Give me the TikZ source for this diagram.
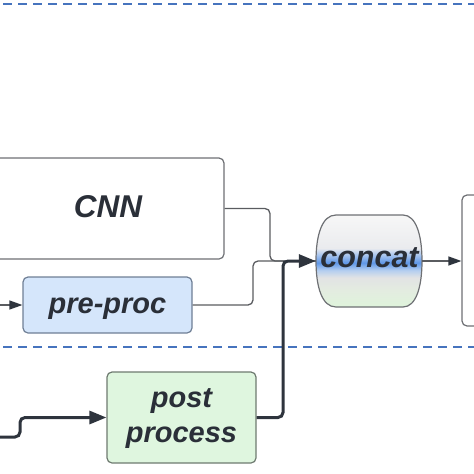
\documentclass[tikz,border=0pt]{standalone}
\usepackage{fontspec}
\setmainfont{Liberation Sans}
\usetikzlibrary{arrows.meta}
\definecolor{txt}{HTML}{2A2F38}
\definecolor{thinc}{HTML}{5A5C60}
\definecolor{thickc}{HTML}{2E343D}
\definecolor{boxgray}{HTML}{6E7074}
\definecolor{prefill}{HTML}{D5E6FB}
\definecolor{predraw}{HTML}{6F7F95}
\definecolor{postfill}{HTML}{DFF6DF}
\definecolor{postdraw}{HTML}{6E7A70}
\definecolor{dashc}{HTML}{4774BE}
\definecolor{cgreen}{HTML}{DFF4DB}
\definecolor{cgreen2}{HTML}{E3ECE0}
\definecolor{cgray}{HTML}{E2E3E4}
\definecolor{cblueA}{HTML}{B4CEF0}
\definecolor{cblue}{HTML}{5F97E8}
\definecolor{cblueB}{HTML}{A3C2EE}
\definecolor{cgray2}{HTML}{EAEBEE}
\definecolor{ctop}{HTML}{F7F7F7}
\pgfdeclareverticalshading{concatshade}{100bp}{color(0bp)=(cgreen); color(25bp)=(cgreen); color(34bp)=(cgreen2); color(41bp)=(cgray); color(45bp)=(cblueA); color(49bp)=(cblue); color(53bp)=(cblueB); color(57bp)=(cgray2); color(75bp)=(ctop); color(100bp)=(ctop)}
\tikzset{
  box/.style={draw=boxgray, line width=1.2pt, rounded corners=5pt, fill=white, inner sep=0pt},
  prebox/.style={box, draw=predraw, fill=prefill},
  postbox/.style={box, draw=postdraw, fill=postfill},
  lbl/.style={text=txt, font=\bfseries\itshape\fontsize{29}{34}\selectfont, anchor=base, inner sep=0pt},
  thinl/.style={draw=thinc, line width=1.3pt, rounded corners=5pt},
  thickl/.style={draw=thickc, line width=3pt, rounded corners=5pt},
  thintip/.style={-{Triangle[length=13pt,width=9pt,color=thickc]}},
  thicktip/.style={-{Triangle[length=17pt,width=13pt,color=thickc]}},
  sepline/.style={draw=dashc, line width=2.3pt, dash pattern=on 9pt off 6pt, dash phase=-3pt}
}
\begin{document}
\begin{tikzpicture}[x=1pt,y=-1pt]
\useasboundingbox (0,0) rectangle (474,474);
\clip (0,0) rectangle (474,474);
% separators
\coordinate (s1a) at (0,4); \coordinate (s1b) at (474,4);
\coordinate (s2a) at (0,347); \coordinate (s2b) at (474,347);
\draw[sepline] (s1a) -- (s1b);
% boxes
\node[box, minimum width=240pt, minimum height=101pt] (cnn) at (104,208.5) {};
\node[prebox, minimum width=169pt, minimum height=56pt] (pre) at (107.5,305) {};
\node[postbox, minimum width=149pt, minimum height=91pt] (post) at (181.5,417.5) {};
\node[box, minimum width=58pt, minimum height=131pt] (out) at (491,260.5) {};
\node[inner sep=0pt, minimum width=106pt, minimum height=92pt] (concat) at (369,261) {};
\draw[shift={(concat.center)}, shading=concatshade, draw=boxgray, line width=1.2pt]
  (-33,-46) -- (34,-46) .. controls (47,-46) and (53,-26) .. (53,0)
  .. controls (53,26) and (47,46) .. (34,46) -- (-33,46)
  .. controls (-47,46) and (-53,26) .. (-53,0)
  .. controls (-53,-26) and (-47,-46) .. (-33,-46) -- cycle;
% second separator (passes under the thick connector)
\draw[sepline] (s2a) -- (s2b);
% labels
\node[lbl, font=\bfseries\itshape\fontsize{31.5}{36}\selectfont] (cnntext) at (108,217) {CNN};
\node[lbl] (pretext) at (107.5,313) {pre-proc};
\node[lbl] (posttext) at (181.5,407) {post};
\node[lbl] (proctext) at (181.5,442) {process};
\node[lbl, font=\bfseries\itshape\fontsize{30.5}{36}\selectfont] (concattext) at (369.5,267) {concat};
% connectors
\coordinate (cnnbend) at (270,0);
\coordinate (prebend) at (253,0);
\coordinate (postbend) at (283,0);
\coordinate (prein) at (0,305);
\coordinate (postin) at (0,437);
\coordinate (poststep) at (20,437);
\draw[thinl] (cnn.east) -| (cnnbend |- concat.west) -- (concat.west);
\draw[thinl] (pre.east) -| (prebend |- concat.west) -- (concat.west);
\draw[thickl, thicktip] (post.east) -| (postbend |- concat.west) -- (concat.west);
\draw[thinl, thintip] (prein) -- (pre.west);
\draw[thickl, thicktip] (postin) -- (poststep) |- (post.west);
\draw[thinl, thintip] (concat.east) -- (concat.east -| out.west);
\end{tikzpicture}
\end{document}
